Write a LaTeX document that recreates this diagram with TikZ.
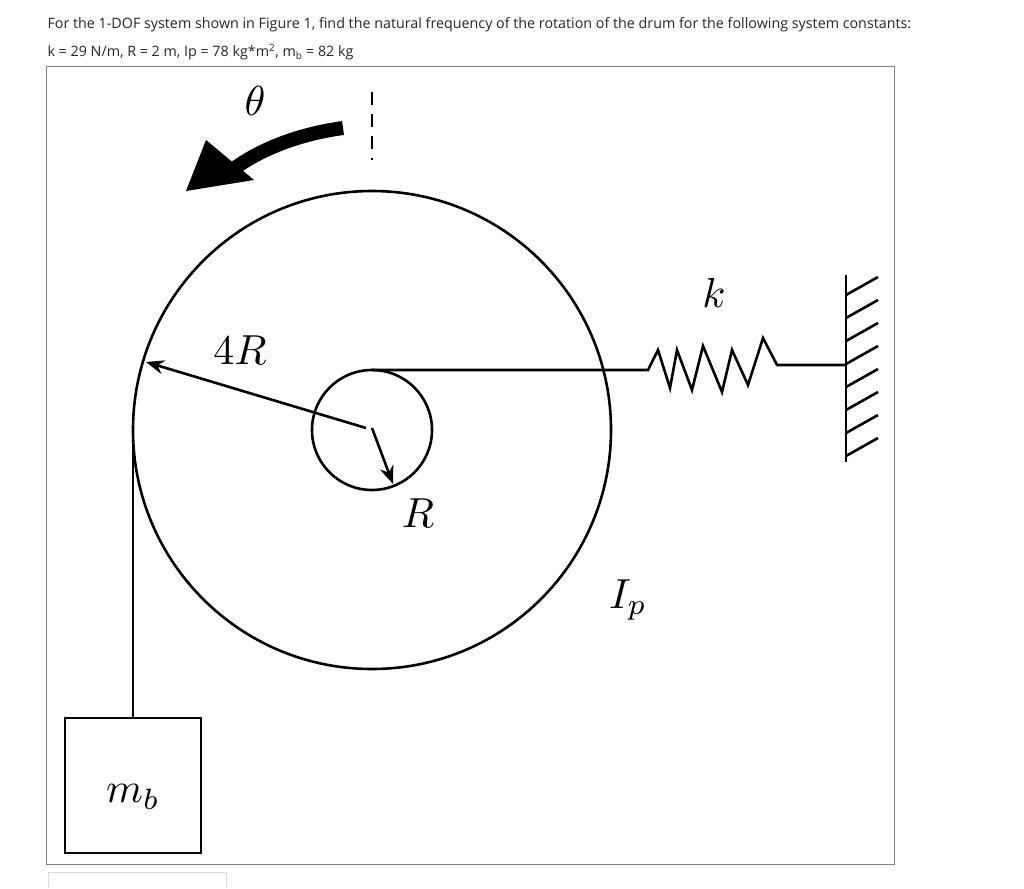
\documentclass[tikz,border=0pt]{standalone}
\usetikzlibrary{arrows.meta}
\usepackage{fontspec}
\setmainfont{Open Sans}
\newcommand{\diaglbl}[1]{\scalebox{4.2}{$#1$}}
\begin{document}
\begin{tikzpicture}[x=1pt,y=-1pt,
  ln/.style={line width=2.6pt,black},
  lbl/.style={inner sep=0}]
\useasboundingbox (0,0) rectangle (1024,888);
\node[anchor=west,font=\fontsize{14.3}{16}\selectfont,text=black!85] (t1) at (44,25) {For the 1-DOF system shown in Figure 1, find the natural frequency of the rotation of the drum for the following system constants:};
\node[anchor=west,font=\fontsize{14.3}{16}\selectfont,text=black!85] (t2) at (44,52) {k = 29 N/m, R = 2 m, Ip = 78 kg*m\textsuperscript{2}, m\textsubscript{b} = 82 kg};
\draw[gray,line width=1pt] (46,67) rectangle (894,864);
\draw[black!15,line width=0.8pt] (48,888) -- (48,872) -- (226,872) -- (226,888);
\coordinate (c) at (372,430);
\draw[ln] (c) circle (239);
\draw[ln] (c) circle (60);
% rope to spring
\draw[ln] (372,370) -- (648,370) -- (658,350) -- (670,388) -- (677,350) -- (692,390) -- (703,346) -- (722,392) -- (732,350) -- (748,385) -- (763,338) -- (777,365) -- (846,365);
\draw[ln] (846,275) -- (846,462);
\foreach \y in {295,318,341,364,387,410,433,456} \draw[ln] (846,\y) -- (878,\y-18);
% radius arrows
\draw[ln,-{Stealth[length=18pt,width=14pt]}] (366,428) -- (146,362);
\draw[ln,-{Stealth[length=18pt,width=14pt]}] (372,428) -- (393,484);
% vertical rope & mass
\draw[ln] (133,430) -- (133,718);
\node[draw,line width=2.6pt,minimum width=136pt,minimum height=135pt,inner sep=0] (mb) at (133,785.5) {};
\node[lbl] at (133,797) {\diaglbl{m_b}};
% dashed
\draw[ln,dash pattern=on 13pt off 9pt] (372,92) -- (372,160);
% thick arrow
\draw[line width=14pt] (343,128) .. controls (300,134) and (262,148) .. (232,170);
\fill (186,191) -- (206,140) -- (254,180) -- cycle;
% labels
\node[lbl] at (255,101) {\diaglbl{\theta}};
\node[lbl] at (240,350) {\diaglbl{4R}};
\node[lbl] at (418,513) {\diaglbl{R}};
\node[lbl] at (628,600) {\diaglbl{I_p}};
\node[lbl] at (714,293) {\diaglbl{k}};
\end{tikzpicture}
\end{document}
